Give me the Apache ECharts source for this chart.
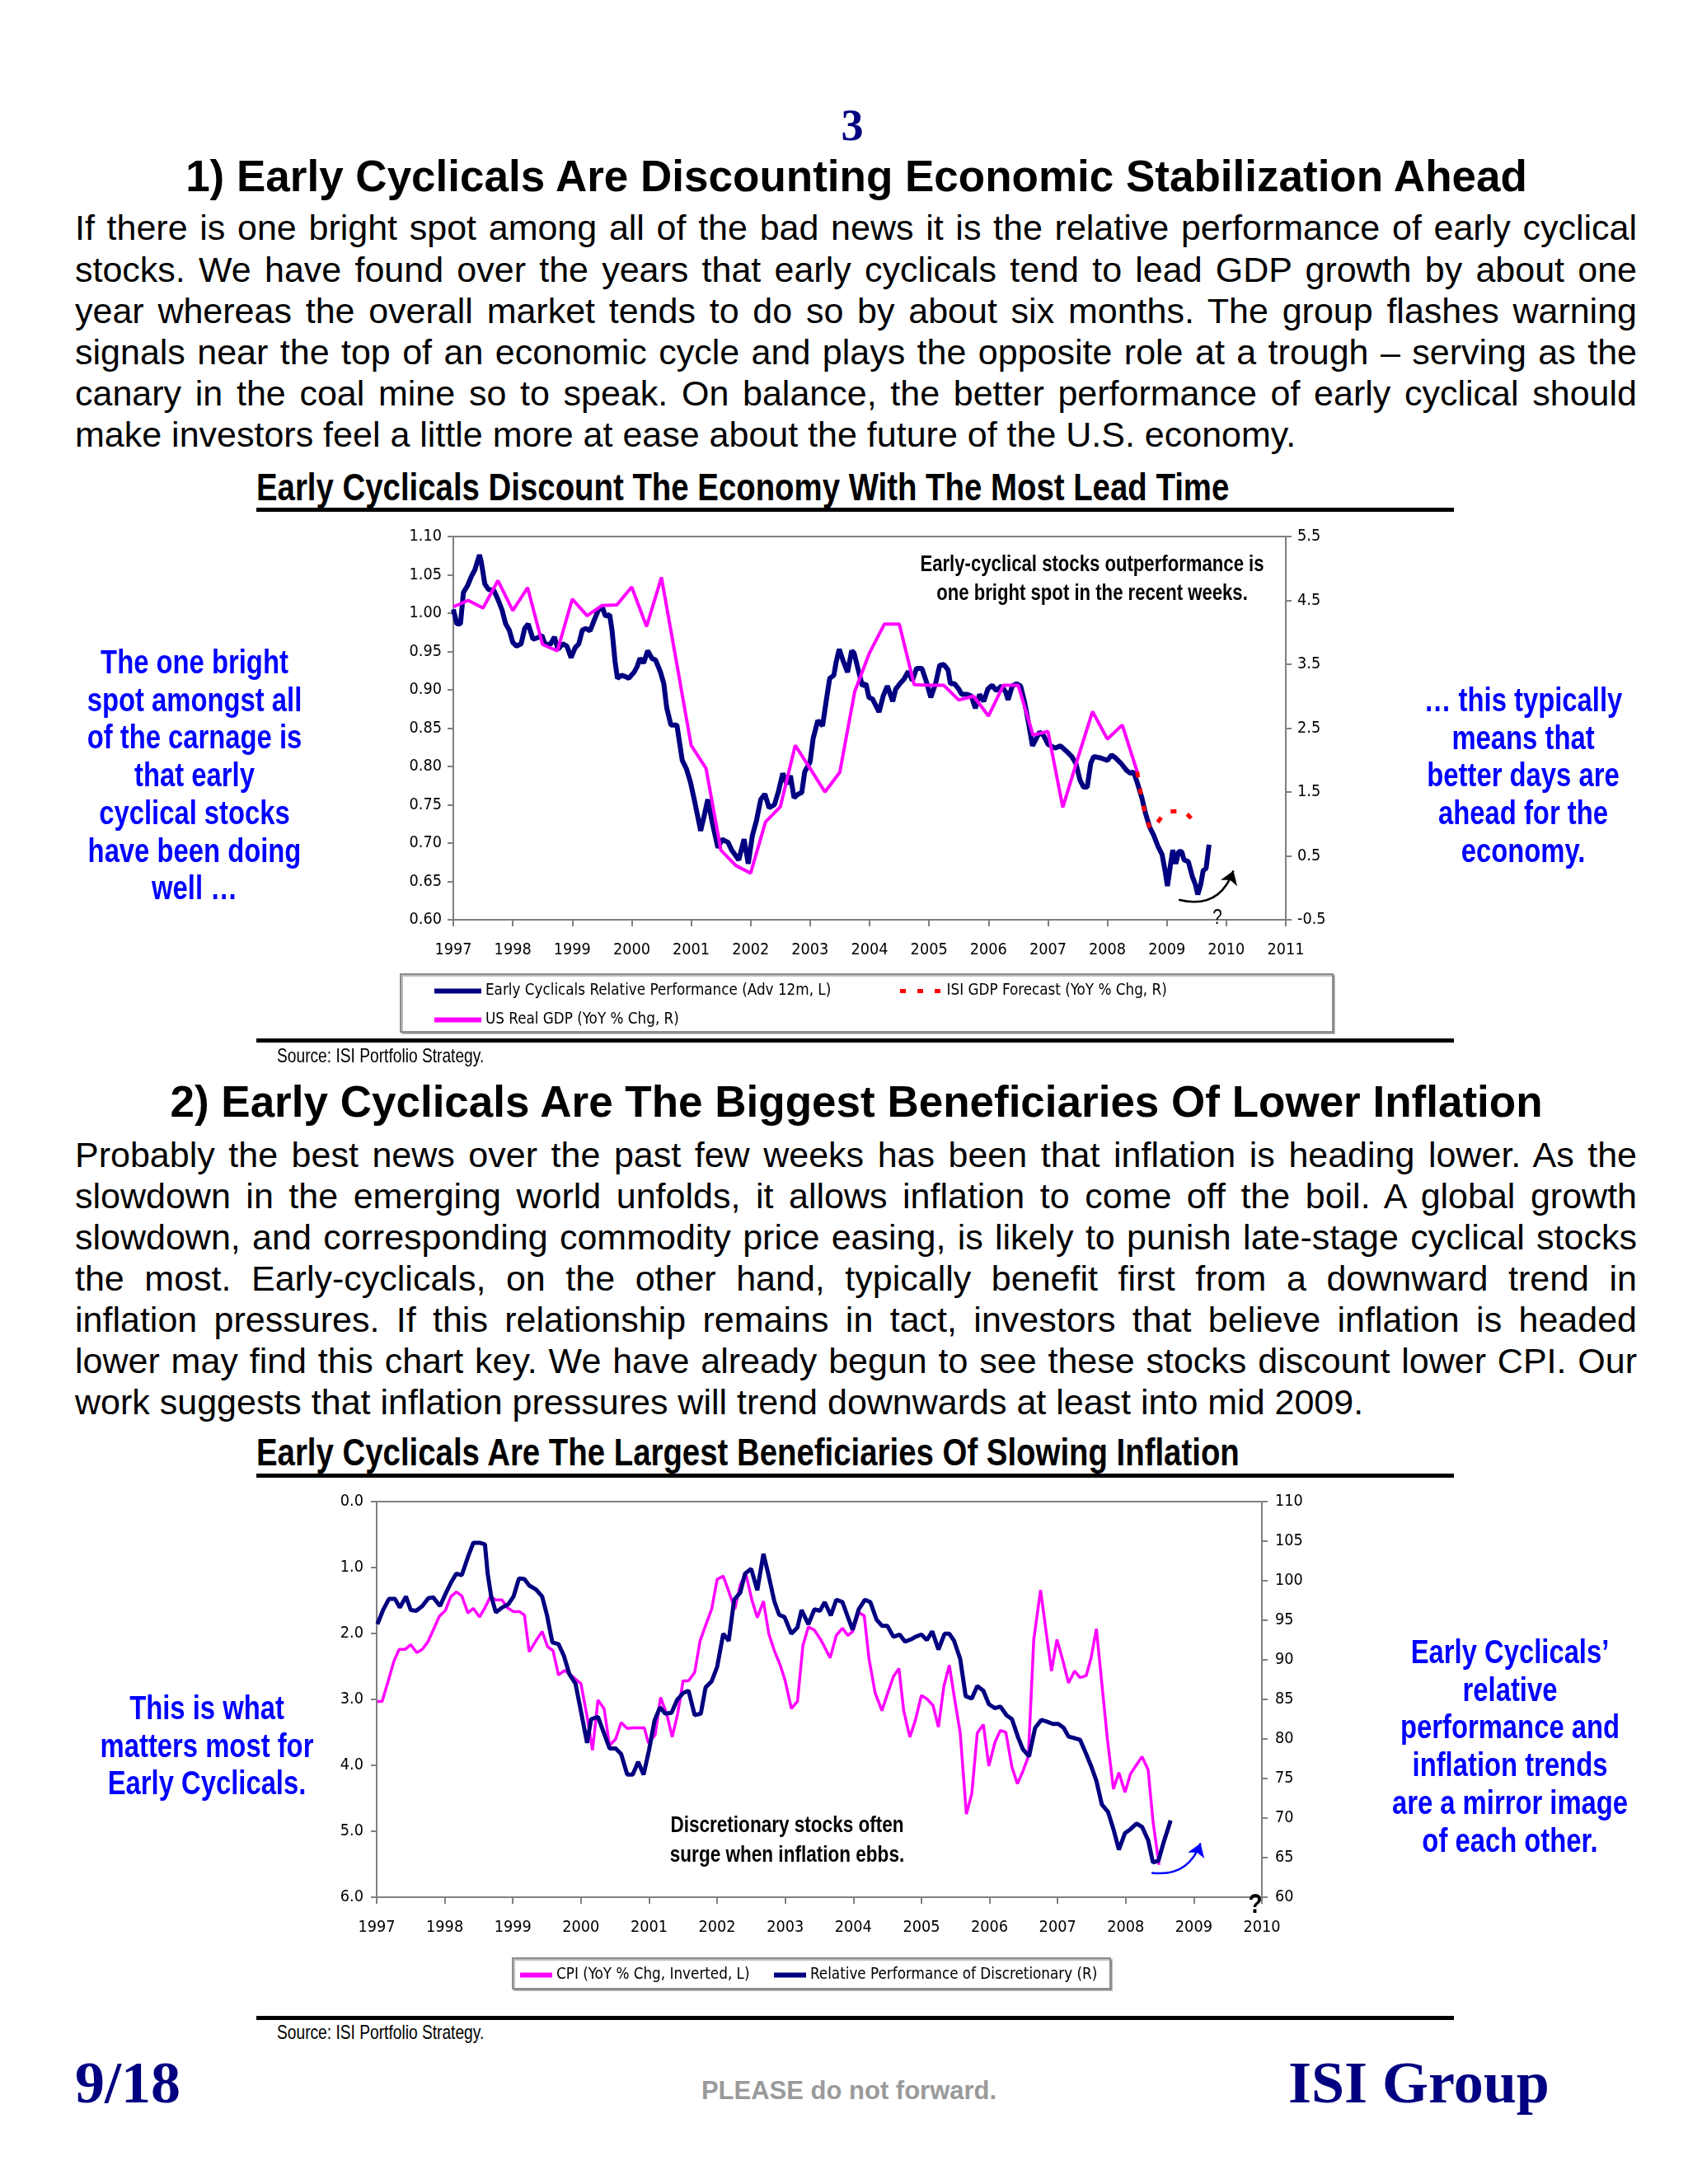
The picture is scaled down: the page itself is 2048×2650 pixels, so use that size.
<!DOCTYPE html>
<html>
<head>
<meta charset="utf-8">
<title>ISI - Early Cyclicals</title>
<script src="https://cdn.jsdelivr.net/npm/echarts@6/dist/echarts.min.js"></script>
<style>
  html, body { margin: 0; padding: 0; background: #fff; }
  #page { position: relative; width: 2048px; height: 2650px; overflow: hidden; background: #fff; }
  .chart { position: absolute; left: 0; width: 2048px; }
  .t { position: absolute; white-space: nowrap; color: #000; }
  .rule { position: absolute; left: 311px; width: 1453px; height: 5px; background: #000; }
</style>
</head>
<body>
<div id="page">
  <div class="chart" id="chart1" style="top:630px;height:640px;"></div>
  <div class="chart" id="chart2" style="top:1800px;height:640px;"></div>
  <div class="rule" style="top:616px;"></div>
  <div class="rule" style="top:1260px;"></div>
  <div class="rule" style="top:1788px;"></div>
  <div class="rule" style="top:2446px;"></div>
</div>

<script>
// ---- chart 1 data: [decimal year, value] ----
// Early cyclicals relative performance, advanced 12m (left axis)
const ecRelPerf = [
  [1997.00,1.005],[1997.06,0.986],[1997.12,0.986],[1997.17,1.027],[1997.24,1.036],[1997.31,1.049],[1997.36,1.056],
  [1997.44,1.076],[1997.47,1.067],[1997.53,1.038],[1997.59,1.031],[1997.68,1.030],[1997.75,1.018],[1997.82,1.004],
  [1997.88,0.986],[1997.94,0.978],[1998.00,0.962],[1998.06,0.957],[1998.14,0.960],[1998.20,0.980],[1998.26,0.986],
  [1998.34,0.966],[1998.42,0.968],[1998.49,0.971],[1998.54,0.960],[1998.63,0.959],[1998.70,0.969],[1998.76,0.953],
  [1998.84,0.960],[1998.91,0.957],[1998.98,0.942],[1999.05,0.955],[1999.11,0.960],[1999.17,0.978],[1999.23,0.980],
  [1999.30,0.977],[1999.37,0.991],[1999.44,1.004],[1999.51,1.007],[1999.56,0.996],[1999.63,0.998],[1999.67,0.977],
  [1999.72,0.937],[1999.76,0.915],[1999.83,0.919],[1999.90,0.917],[1999.95,0.915],[2000.04,0.923],[2000.09,0.930],
  [2000.14,0.941],[2000.20,0.935],[2000.27,0.951],[2000.34,0.941],[2000.40,0.939],[2000.48,0.924],[2000.54,0.908],
  [2000.59,0.876],[2000.66,0.854],[2000.76,0.854],[2000.85,0.808],[2000.92,0.797],[2000.99,0.779],[2001.06,0.754],
  [2001.16,0.716],[2001.22,0.736],[2001.28,0.757],[2001.36,0.725],[2001.45,0.694],[2001.52,0.705],[2001.62,0.701],
  [2001.68,0.691],[2001.80,0.678],[2001.89,0.705],[2001.96,0.673],[2002.03,0.710],[2002.10,0.730],[2002.17,0.757],
  [2002.24,0.764],[2002.31,0.746],[2002.40,0.750],[2002.47,0.768],[2002.54,0.791],[2002.61,0.777],[2002.67,0.788],
  [2002.73,0.759],[2002.80,0.764],[2002.86,0.766],[2002.91,0.793],[2003.00,0.806],[2003.05,0.836],[2003.13,0.860],
  [2003.21,0.853],[2003.28,0.890],[2003.33,0.915],[2003.40,0.919],[2003.44,0.937],[2003.49,0.953],[2003.56,0.937],
  [2003.63,0.923],[2003.70,0.951],[2003.74,0.948],[2003.81,0.926],[2003.88,0.905],[2003.94,0.908],[2003.99,0.890],
  [2004.05,0.888],[2004.16,0.871],[2004.23,0.892],[2004.30,0.905],[2004.39,0.885],[2004.44,0.901],[2004.51,0.908],
  [2004.58,0.914],[2004.65,0.924],[2004.72,0.912],[2004.79,0.928],[2004.88,0.928],[2004.95,0.912],[2005.03,0.890],
  [2005.11,0.908],[2005.18,0.932],[2005.25,0.933],[2005.32,0.926],[2005.36,0.908],[2005.43,0.908],[2005.50,0.901],
  [2005.55,0.894],[2005.64,0.894],[2005.71,0.892],[2005.78,0.876],[2005.85,0.894],[2005.92,0.885],[2005.99,0.901],
  [2006.06,0.906],[2006.13,0.899],[2006.22,0.905],[2006.29,0.897],[2006.33,0.887],[2006.40,0.905],[2006.47,0.908],
  [2006.54,0.905],[2006.61,0.883],[2006.68,0.854],[2006.74,0.827],[2006.80,0.836],[2006.86,0.845],[2006.93,0.840],
  [2007.00,0.829],[2007.12,0.824],[2007.21,0.827],[2007.31,0.820],[2007.40,0.813],[2007.47,0.804],[2007.54,0.782],
  [2007.60,0.773],[2007.66,0.773],[2007.72,0.804],[2007.77,0.813],[2007.89,0.811],[2008.00,0.808],[2008.07,0.815],
  [2008.14,0.811],[2008.23,0.804],[2008.32,0.795],[2008.39,0.791],[2008.44,0.793],[2008.51,0.777],[2008.58,0.759],
  [2008.64,0.739],[2008.71,0.721],[2008.78,0.710],[2008.85,0.696],[2008.92,0.685],[2008.97,0.664],[2009.01,0.644],
  [2009.06,0.671],[2009.10,0.691],[2009.15,0.673],[2009.20,0.689],[2009.25,0.689],[2009.29,0.678],[2009.36,0.676],
  [2009.43,0.656],[2009.48,0.646],[2009.52,0.633],[2009.57,0.646],[2009.61,0.664],[2009.66,0.667],[2009.71,0.698]
];
// US real GDP, YoY % (right axis), quarterly
const usRealGdp = [
  [1997.00,4.40],[1997.25,4.50],[1997.50,4.38],[1997.75,4.81],[1998.00,4.34],[1998.25,4.70],[1998.50,3.81],
  [1998.75,3.71],[1999.00,4.52],[1999.25,4.26],[1999.50,4.42],[1999.75,4.43],[2000.00,4.71],[2000.25,4.09],
  [2000.50,4.86],[2000.75,3.55],[2001.00,2.23],[2001.25,1.87],[2001.50,0.59],[2001.75,0.35],[2002.00,0.23],
  [2002.25,1.03],[2002.50,1.27],[2002.75,2.23],[2003.00,1.87],[2003.25,1.50],[2003.50,1.81],[2003.75,3.07],
  [2004.00,3.68],[2004.25,4.13],[2004.50,4.13],[2004.75,3.18],[2005.00,3.17],[2005.25,3.17],[2005.50,2.94],
  [2005.75,3.00],[2006.00,2.69],[2006.25,3.17],[2006.50,3.17],[2006.75,2.39],[2007.00,2.45],[2007.25,1.26],
  [2007.50,2.02],[2007.75,2.76],[2008.00,2.33],[2008.25,2.55],[2008.50,1.82]
];
// ISI GDP forecast (right axis)
const isiGdpForecast = [[2008.50,1.82],[2008.75,0.92],[2009.00,1.18],[2009.25,1.20],[2009.50,0.98]];
const gdpTicks = [-0.5, 0.5, 1.5, 2.5, 3.5, 4.5, 5.5];
const arrow1 = [[2009.20, 0.626], [2010.12, 0.664]];

// ---- chart 2 data ----
// CPI YoY % (left axis, inverted)
const cpiYoY = [
  [1997.01,3.03],[1997.08,3.03],[1997.17,2.72],[1997.25,2.43],[1997.33,2.24],[1997.42,2.24],[1997.50,2.17],
  [1997.59,2.29],[1997.67,2.24],[1997.75,2.13],[1997.83,1.95],[1997.92,1.74],[1998.01,1.65],[1998.09,1.44],
  [1998.17,1.37],[1998.25,1.43],[1998.34,1.69],[1998.42,1.62],[1998.51,1.75],[1998.59,1.61],[1998.67,1.44],
  [1998.75,1.49],[1998.84,1.49],[1998.92,1.61],[1999.01,1.67],[1999.10,1.67],[1999.17,1.72],[1999.24,2.28],
  [1999.34,2.11],[1999.43,1.97],[1999.51,2.20],[1999.59,2.26],[1999.67,2.63],[1999.76,2.56],[1999.85,2.63],
  [1999.93,2.70],[2000.00,2.76],[2000.09,3.26],[2000.17,3.77],[2000.25,3.01],[2000.34,3.14],[2000.42,3.70],
  [2000.51,3.60],[2000.59,3.35],[2000.68,3.44],[2000.76,3.43],[2000.84,3.43],[2000.93,3.43],[2000.99,3.66],
  [2001.09,3.54],[2001.17,2.97],[2001.26,3.22],[2001.34,3.57],[2001.42,3.22],[2001.50,2.72],[2001.58,2.72],
  [2001.67,2.59],[2001.75,2.11],[2001.83,1.88],[2001.92,1.63],[2002.00,1.18],[2002.09,1.13],[2002.17,1.36],
  [2002.26,1.63],[2002.34,1.26],[2002.42,1.09],[2002.51,1.49],[2002.59,1.76],[2002.68,1.51],[2002.76,2.01],
  [2002.84,2.26],[2002.93,2.49],[2003.00,2.72],[2003.09,3.14],[2003.18,3.03],[2003.26,2.18],[2003.34,1.90],
  [2003.43,1.95],[2003.53,2.11],[2003.66,2.37],[2003.75,2.03],[2003.84,1.92],[2003.92,2.03],[2003.99,1.97],
  [2004.08,1.68],[2004.16,1.73],[2004.23,2.38],[2004.32,2.90],[2004.42,3.17],[2004.50,2.92],[2004.59,2.65],
  [2004.67,2.53],[2004.74,3.17],[2004.83,3.57],[2004.91,3.32],[2005.00,2.94],[2005.08,2.99],[2005.17,3.09],
  [2005.25,3.42],[2005.33,2.80],[2005.41,2.48],[2005.49,3.01],[2005.57,3.51],[2005.66,4.74],[2005.74,4.43],
  [2005.82,3.51],[2005.91,3.38],[2005.99,4.01],[2006.08,3.65],[2006.16,3.47],[2006.24,3.50],[2006.33,4.03],
  [2006.41,4.28],[2006.49,4.09],[2006.57,3.87],[2006.65,2.09],[2006.75,1.34],[2006.83,1.96],[2006.91,2.57],
  [2006.99,2.09],[2007.08,2.42],[2007.16,2.75],[2007.25,2.57],[2007.33,2.67],[2007.42,2.64],[2007.49,2.38],
  [2007.57,1.93],[2007.65,2.76],[2007.73,3.59],[2007.82,4.36],[2007.90,4.11],[2007.99,4.41],[2008.07,4.13],
  [2008.16,3.99],[2008.24,3.87],[2008.33,4.07],[2008.40,4.84],[2008.49,5.51]
];
// Relative performance of discretionary (right axis)
const discRelPerf = [
  [1997.01,94.5],[1997.10,96.4],[1997.18,97.7],[1997.27,97.7],[1997.34,96.6],[1997.43,98.0],[1997.50,96.3],
  [1997.58,96.2],[1997.67,96.8],[1997.76,97.8],[1997.83,97.9],[1997.93,96.8],[1998.02,98.5],[1998.10,99.9],
  [1998.17,100.9],[1998.25,100.7],[1998.34,103.0],[1998.42,104.8],[1998.51,104.8],[1998.59,104.6],[1998.63,100.9],
  [1998.68,98.1],[1998.75,96.0],[1998.84,96.6],[1998.93,97.0],[1999.01,98.0],[1999.09,100.3],[1999.17,100.2],
  [1999.24,99.4],[1999.34,98.9],[1999.43,98.0],[1999.50,95.7],[1999.58,92.2],[1999.67,92.0],[1999.75,90.5],
  [1999.83,88.2],[1999.92,87.0],[2000.00,83.5],[2000.09,79.5],[2000.15,82.5],[2000.25,82.8],[2000.34,80.7],
  [2000.42,78.8],[2000.51,78.8],[2000.59,78.1],[2000.68,75.5],[2000.76,75.5],[2000.84,77.1],[2000.92,75.5],
  [2001.00,78.6],[2001.08,82.3],[2001.16,84.0],[2001.24,83.2],[2001.33,83.3],[2001.41,84.9],[2001.50,85.8],
  [2001.58,86.1],[2001.67,83.0],[2001.76,83.2],[2001.83,86.5],[2001.92,87.3],[2002.00,89.1],[2002.09,93.3],
  [2002.17,92.4],[2002.25,97.6],[2002.34,98.5],[2002.41,100.9],[2002.50,101.5],[2002.59,98.8],[2002.68,103.4],
  [2002.75,100.9],[2002.84,97.4],[2002.91,95.7],[2002.99,95.4],[2003.09,93.3],[2003.18,94.1],[2003.24,96.3],
  [2003.34,94.5],[2003.43,96.4],[2003.51,96.2],[2003.58,97.3],[2003.67,95.6],[2003.75,97.6],[2003.84,97.3],
  [2003.92,95.4],[2003.99,93.8],[2004.08,96.4],[2004.17,97.6],[2004.25,97.3],[2004.34,95.1],[2004.42,94.3],
  [2004.50,94.3],[2004.59,92.9],[2004.68,93.2],[2004.76,92.3],[2004.85,92.6],[2004.91,92.9],[2005.00,93.2],
  [2005.08,92.5],[2005.16,93.6],[2005.25,91.3],[2005.34,93.3],[2005.41,93.3],[2005.48,92.4],[2005.57,90.1],
  [2005.65,85.4],[2005.74,85.1],[2005.82,86.7],[2005.91,86.1],[2005.99,84.4],[2006.08,83.9],[2006.16,84.1],
  [2006.25,83.0],[2006.33,82.5],[2006.42,80.2],[2006.49,78.7],[2006.58,77.8],[2006.67,81.4],[2006.76,82.4],
  [2006.84,82.2],[2006.93,81.9],[2007.01,81.9],[2007.09,81.4],[2007.16,80.3],[2007.25,80.1],[2007.33,79.9],
  [2007.42,78.1],[2007.50,76.4],[2007.57,74.7],[2007.65,71.7],[2007.74,70.8],[2007.82,68.6],[2007.90,66.0],
  [2007.99,68.1],[2008.07,68.6],[2008.16,69.3],[2008.24,68.9],[2008.33,67.2],[2008.40,64.4],[2008.48,64.6],
  [2008.56,67.0],[2008.66,69.7]
];
const arrow2 = [[2008.38, 5.63], [2009.10, 5.18]];

const S_EC = 'Early Cyclicals Relative Performance (Adv 12m, L)';
const S_ISI = 'ISI GDP Forecast (YoY % Chg, R)';
const S_GDP = 'US Real GDP (YoY % Chg, R)';
const S_CPI = 'CPI (YoY % Chg, Inverted, L)';
const S_DISC = 'Relative Performance of Discretionary (R)';

const para1 = [
  'If there is one bright spot among all of the bad news it is the relative performance of early cyclical',
  'stocks. We have found over the years that early cyclicals tend to lead GDP growth by about one',
  'year whereas the overall market tends to do so by about six months. The group flashes warning',
  'signals near the top of an economic cycle and plays the opposite role at a trough \u2013 serving as the',
  'canary in the coal mine so to speak. On balance, the better performance of early cyclical should',
  'make investors feel a little more at ease about the future of the U.S. economy.'
];
const para2 = [
  'Probably the best news over the past few weeks has been that inflation is heading lower. As the',
  'slowdown in the emerging world unfolds, it allows inflation to come off the boil. A global growth',
  'slowdown, and corresponding commodity price easing, is likely to punish late-stage cyclical stocks',
  'the most. Early-cyclicals, on the other hand, typically benefit first from a downward trend in',
  'inflation pressures. If this relationship remains in tact, investors that believe inflation is headed',
  'lower may find this chart key. We have already begun to see these stocks discount lower CPI. Our',
  'work suggests that inflation pressures will trend downwards at least into mid 2009.'
];

// ---- fonts: the report uses Arial / Arial Narrow ----
const SANS = '"Liberation Sans", Arial, sans-serif';
const SERIF = '"Liberation Serif", "Times New Roman", serif';
const NARROW_X = 0.82;   // Arial Narrow is Arial squeezed to ~82 %
const probeCtx = document.createElement('canvas').getContext('2d');
const PROBE = 'Early Cyclicals Relative Performance 0123456789';
function widthOf(font) { probeCtx.font = font; return probeCtx.measureText(PROBE).width; }
const monoW = widthOf('40px monospace');
const arialW = widthOf('40px "Liberation Sans"');
const notoW = widthOf('40px "Noto Sans", monospace');
const dejaW = widthOf('40px "DejaVu Sans", monospace');
// pick a condensed face for axis labels and legend, as close to Arial Narrow as possible
let narrow = null;
[
  { stretch: '', family: 'Liberation Sans Narrow', base: monoW },
  { stretch: '', family: 'Arial Narrow', base: monoW },
  { stretch: '', family: 'Nimbus Sans Narrow', base: monoW },
  { stretch: 'extra-condensed', family: 'Noto Sans', base: notoW },
  { stretch: 'condensed', family: 'Noto Sans', base: notoW },
  { stretch: 'semi-condensed', family: 'Noto Sans', base: notoW },
  { stretch: 'condensed', family: 'DejaVu Sans', base: dejaW },
  { stretch: '', family: 'DejaVu Sans Condensed', base: monoW }
].forEach(c => {
  const w = widthOf((c.stretch ? c.stretch + ' ' : '') + '40px "' + c.family + '", monospace');
  if (w === c.base || w === monoW) return;
  const r = w / arialW;
  if (!narrow || Math.abs(r - NARROW_X) < Math.abs(narrow.r - NARROW_X)) narrow = Object.assign({ r: r }, c);
});
const CANVAS_FAMILY = narrow ? '"' + narrow.family + '", sans-serif' : SANS;
const CANVAS_STRETCH = narrow && narrow.stretch ? narrow.stretch : 'normal';
const CANVAS_K = narrow ? NARROW_X / narrow.r : 0.86;
const cfont = (size, weight) => ({
  fontSize: Math.round(size * CANVAS_K * 10) / 10, fontFamily: CANVAS_FAMILY,
  fontStyle: CANVAS_STRETCH, fontWeight: weight || 'normal'
});

const page = document.getElementById('page');

// text helper: x is left edge (or centre), y is vertical centre
function addText(html, o) {
  const el = document.createElement('div');
  el.className = 't';
  el.innerHTML = html;
  el.style.left = o.x + 'px';
  el.style.top = o.y + 'px';
  el.style.fontSize = o.size + 'px';
  el.style.fontFamily = o.family || SANS;
  el.style.fontWeight = o.weight || 'normal';
  el.style.color = o.color || '#000';
  el.style.lineHeight = (o.lh || Math.round(o.size * 1.15)) + 'px';
  el.style.textAlign = o.align || 'left';
  const center = o.align === 'center';
  const squeeze = o.narrow ? ' scaleX(' + NARROW_X + ')' : '';
  el.style.transformOrigin = center ? '50% 50%' : '0 50%';
  el.style.transform = 'translate(' + (center ? '-50%' : '0') + ', -50%)' + squeeze;
  el.style.zIndex = 5;
  page.appendChild(el);
  return el;
}

// justified body line, stretched to the column width with word spacing
function bodyLine(txt, y, last) {
  const el = addText(txt, { x: 91, y: y, size: 43, lh: 50 });
  if (!last) {
    const natural = el.getBoundingClientRect().width;
    const spaces = (txt.match(/ /g) || []).length;
    if (spaces) el.style.wordSpacing = ((1895 - natural) / spaces) + 'px';
  }
}

addText('3', { x: 1034, y: 152, size: 54, family: SERIF, weight: 'bold', color: '#000080', align: 'center' });
addText('1) Early Cyclicals Are Discounting Economic Stabilization Ahead', { x: 1039, y: 213, size: 53, weight: 'bold', align: 'center' });
[276, 327, 377, 427, 477, 527].forEach((y, i) => bodyLine(para1[i], y, i === para1.length - 1));
addText('Early Cyclicals Discount The Economy With The Most Lead Time', { x: 311, y: 591, size: 46.8, weight: 'bold', narrow: true });
addText('Source: ISI Portfolio Strategy.', { x: 336, y: 1281, size: 23.4, narrow: true });

addText('2) Early Cyclicals Are The Biggest Beneficiaries Of Lower Inflation', { x: 1039, y: 1336, size: 53, weight: 'bold', align: 'center' });
[1401, 1451, 1501, 1551, 1601, 1651, 1701].forEach((y, i) => bodyLine(para2[i], y, i === para2.length - 1));
addText('Early Cyclicals Are The Largest Beneficiaries Of Slowing Inflation', { x: 311, y: 1762, size: 46.8, weight: 'bold', narrow: true });
addText('Source: ISI Portfolio Strategy.', { x: 336, y: 2466, size: 23.4, narrow: true });

const blue = { size: 40, weight: 'bold', color: '#0000FF', align: 'center', lh: 45.7, narrow: true };
addText('The one bright<br>spot amongst all<br>of the carnage is<br>that early<br>cyclical stocks<br>have been doing<br>well \u2026', Object.assign({ x: 236, y: 941 }, blue));
addText('\u2026 this typically<br>means that<br>better days are<br>ahead for the<br>economy.', Object.assign({ x: 1848, y: 941 }, blue));
addText('This is what<br>matters most for<br>Early Cyclicals.', Object.assign({ x: 251, y: 2119 }, blue));
addText('Early Cyclicals\u2019<br>relative<br>performance and<br>inflation trends<br>are a mirror image<br>of each other.', Object.assign({ x: 1832, y: 2119 }, blue));

addText('9/18', { x: 91, y: 2527, size: 72, family: SERIF, weight: 'bold', color: '#000080' });
addText('ISI Group', { x: 1563, y: 2527, size: 72, family: SERIF, weight: 'bold', color: '#000080' });
addText('PLEASE do not forward.', { x: 1030, y: 2537, size: 31, weight: 'bold', color: '#9a9a9a', align: 'center' });

// ---- shared chart styles ----
const GRAY = '#808080';
const axisLine = { show: true, onZero: false, lineStyle: { color: GRAY, width: 2 } };
const axisTick = { show: true, length: 7, lineStyle: { color: GRAY, width: 2 } };
const label = size => Object.assign({ color: '#000' }, cfont(size * 1.1));
const legendBase = {
  orient: 'horizontal', padding: 0, itemHeight: 6, selectedMode: false, icon: 'rect',
  textStyle: Object.assign({ color: '#000' }, cfont(23))
};
const dottedIcon = 'path://M0,0h7v5h-7z M21,0h7v5h-7z M42,0h7v5h-7z';
// chart annotations: Arial, squeezed like Arial Narrow
function note(text, x, y, size, weight, lh) {
  return {
    type: 'text', z: 10, x: x, y: y, scaleX: NARROW_X,
    style: { text: text, align: 'center', verticalAlign: 'middle', fontSize: size, fontWeight: weight,
             fontFamily: SANS, lineHeight: lh || size * 1.2, fill: '#000' }
  };
}

// ---- chart 1 ----
const chart1 = echarts.init(document.getElementById('chart1'));
chart1.setOption({
  animation: false,
  grid: { left: 550, top: 21, width: 1010, height: 465, show: true, borderColor: GRAY, borderWidth: 2 },
  xAxis: {
    type: 'value', min: 1997, max: 2011, interval: 1,
    axisLine: axisLine, axisTick: Object.assign({}, axisTick, { length: 8 }),
    axisLabel: Object.assign(label(22), { margin: 27, formatter: v => String(v) }),
    splitLine: { show: false }
  },
  yAxis: [
    {
      type: 'value', min: 0.6, max: 1.1, interval: 0.05, position: 'left',
      axisLine: axisLine, axisTick: axisTick,
      axisLabel: Object.assign(label(22), { margin: 14, formatter: v => v.toFixed(2) }),
      splitLine: { show: false }
    },
    {
      type: 'value', min: -0.5, max: 5.5, position: 'right',
      axisLine: axisLine, axisTick: Object.assign({}, axisTick, { customValues: gdpTicks }),
      axisLabel: Object.assign(label(22), { margin: 14, customValues: gdpTicks, formatter: v => v.toFixed(1) }),
      splitLine: { show: false }
    }
  ],
  legend: [
    Object.assign({}, legendBase, { data: [S_EC], left: 527, top: 563, itemWidth: 57 }),
    Object.assign({}, legendBase, { data: [{ name: S_ISI, icon: dottedIcon }], left: 1092, top: 563, itemWidth: 54, itemHeight: 5 }),
    Object.assign({}, legendBase, { data: [S_GDP], left: 527, top: 598, itemWidth: 57 })
  ],
  graphic: [
    { type: 'rect', z: 1, shape: { x: 486, y: 552, width: 1131, height: 70 },
      style: { fill: '#fff', stroke: '#8c8c8c', lineWidth: 2, shadowColor: 'rgba(0,0,0,0.25)', shadowOffsetX: 2, shadowOffsetY: 2 } },
    note('Early-cyclical stocks outperformance is\none bright spot in the recent weeks.', 1325, 73, 27, 'bold', 35),
    note('?', 1477, 484, 25, 'normal')
  ],
  series: [
    { name: S_EC, type: 'line', yAxisIndex: 0, data: ecRelPerf, symbol: 'none',
      lineStyle: { color: '#000080', width: 6 }, itemStyle: { color: '#000080' } },
    { name: S_ISI, type: 'line', yAxisIndex: 1, data: isiGdpForecast, symbol: 'none', smooth: 0.3,
      lineStyle: { color: '#FF0000', width: 5, type: [7, 14] }, itemStyle: { color: '#FF0000' } },
    { name: S_GDP, type: 'line', yAxisIndex: 1, data: usRealGdp, symbol: 'none',
      lineStyle: { color: '#FF00FF', width: 4 }, itemStyle: { color: '#FF00FF' } },
    { type: 'lines', coordinateSystem: 'cartesian2d', xAxisIndex: 0, yAxisIndex: 0, silent: true,
      symbol: ['none', 'arrow'], symbolSize: 16,
      lineStyle: { color: '#000', width: 2.5, curveness: -0.45, opacity: 1 },
      data: [{ coords: arrow1 }] }
  ]
});

// ---- chart 2 ----
const chart2 = echarts.init(document.getElementById('chart2'));
chart2.setOption({
  animation: false,
  grid: { left: 457, top: 22, width: 1074, height: 480, show: true, borderColor: GRAY, borderWidth: 2 },
  xAxis: {
    type: 'value', min: 1997, max: 2010, interval: 1,
    axisLine: axisLine, axisTick: Object.assign({}, axisTick, { length: 8 }),
    axisLabel: Object.assign(label(22), { margin: 27, formatter: v => String(v) }),
    splitLine: { show: false }
  },
  yAxis: [
    {
      type: 'value', min: 0, max: 6, interval: 1, inverse: true, position: 'left',
      axisLine: axisLine, axisTick: axisTick,
      axisLabel: Object.assign(label(22), { margin: 16, formatter: v => v.toFixed(1) }),
      splitLine: { show: false }
    },
    {
      type: 'value', min: 60, max: 110, interval: 5, position: 'right',
      axisLine: axisLine, axisTick: axisTick,
      axisLabel: Object.assign(label(22), { margin: 16 }),
      splitLine: { show: false }
    }
  ],
  legend: [
    Object.assign({}, legendBase, { data: [S_CPI], left: 631, top: 587, itemWidth: 39 }),
    Object.assign({}, legendBase, { data: [S_DISC], left: 939, top: 587, itemWidth: 39 })
  ],
  graphic: [
    { type: 'rect', z: 1, shape: { x: 622, y: 576, width: 725, height: 37 },
      style: { fill: '#fff', stroke: '#8c8c8c', lineWidth: 2, shadowColor: 'rgba(0,0,0,0.25)', shadowOffsetX: 2, shadowOffsetY: 2 } },
    note('Discretionary stocks often\nsurge when inflation ebbs.', 955, 433, 27.5, 'bold', 36),
    note('?', 1523, 512, 34, 'bold')
  ],
  series: [
    { name: S_CPI, type: 'line', yAxisIndex: 0, data: cpiYoY, symbol: 'none',
      lineStyle: { color: '#FF00FF', width: 3.5 }, itemStyle: { color: '#FF00FF' } },
    { name: S_DISC, type: 'line', yAxisIndex: 1, data: discRelPerf, symbol: 'none',
      lineStyle: { color: '#000080', width: 5 }, itemStyle: { color: '#000080' } },
    { type: 'lines', coordinateSystem: 'cartesian2d', xAxisIndex: 0, yAxisIndex: 0, silent: true,
      symbol: ['none', 'arrow'], symbolSize: 16,
      lineStyle: { color: '#0000FF', width: 2.5, curveness: -0.4, opacity: 1 },
      data: [{ coords: arrow2 }] }
  ]
});
</script>
</body>
</html>
